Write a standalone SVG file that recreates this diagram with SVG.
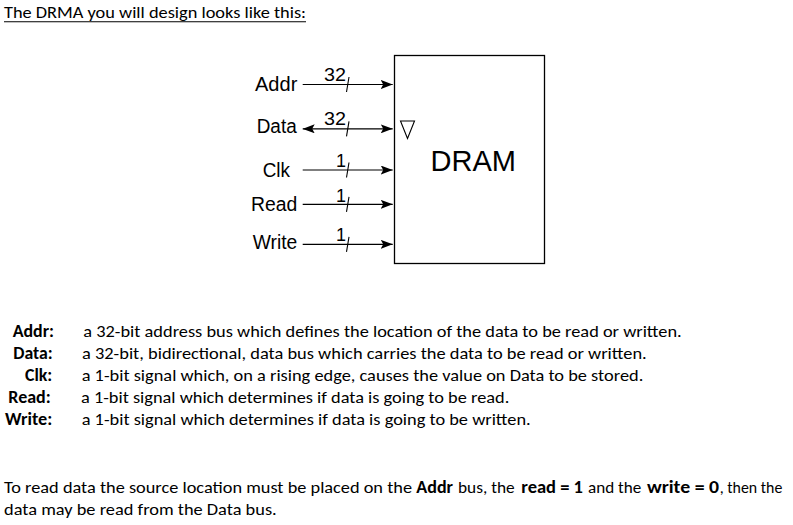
<svg xmlns="http://www.w3.org/2000/svg" width="793" height="525" viewBox="0 0 793 525">
<style>
.bg{fill:#fff}
.dia{font-family:"Liberation Sans",Arial,sans-serif;fill:#000}
.sig{font-size:20px}
.w{font-size:18px}
.conn{stroke:#000;stroke-width:1.2;fill:none}
.tick{stroke:#000;stroke-width:1.1}
.body{font-family:Carlito,Lato,"Liberation Sans",sans-serif;font-size:17px;fill:#000}
.b{font-weight:bold}
</style>
<defs>
<marker id="ah" viewBox="0 0 12 9" refX="12" refY="4.5" markerWidth="12" markerHeight="9" markerUnits="userSpaceOnUse" orient="auto-start-reverse">
<path d="M0,0 L12,4.5 L0,9 L2.5,4.5 z" fill="#000"/>
</marker>
</defs>
<rect class="bg" x="0" y="0" width="793" height="525"/>

<!-- title -->
<g id="title">
<text class="body" x="4" y="18.3" textLength="302" lengthAdjust="spacingAndGlyphs">The DRMA you will design looks like this:</text>
<line x1="4" y1="21.8" x2="306" y2="21.8" stroke="#000" stroke-width="1.1"/>
</g>

<!-- nodes -->
<g id="dram" class="dia">
<rect x="394.5" y="55.5" width="150" height="208" fill="#fff" stroke="#000" stroke-width="1.3"/>
<polygon points="400.5,121 414.5,121 407.5,138.5" fill="none" stroke="#000" stroke-width="1.1"/>
<text x="430.5" y="170.7" font-size="29" textLength="85.5" lengthAdjust="spacingAndGlyphs">DRAM</text>
</g>
<g id="addr" class="dia sig"><text x="255" y="90.7" textLength="42.3" lengthAdjust="spacingAndGlyphs">Addr</text></g>
<g id="data" class="dia sig"><text x="256.7" y="133.3" textLength="40" lengthAdjust="spacingAndGlyphs">Data</text></g>
<g id="clk" class="dia sig"><text x="262.7" y="176.7" textLength="27.3" lengthAdjust="spacingAndGlyphs">Clk</text></g>
<g id="read" class="dia sig"><text x="251" y="211" textLength="46.3" lengthAdjust="spacingAndGlyphs">Read</text></g>
<g id="write" class="dia sig"><text x="252.7" y="249.3" textLength="44.6" lengthAdjust="spacingAndGlyphs">Write</text></g>

<!-- connectors -->
<g id="connectors">
<line class="conn" x1="302.7" y1="84.5" x2="392.7" y2="84.5" marker-end="url(#ah)"/>
<line class="conn" x1="302.7" y1="128.8" x2="392.7" y2="128.8" marker-start="url(#ah)" marker-end="url(#ah)"/>
<line class="conn" x1="302.7" y1="170" x2="392.7" y2="170" marker-end="url(#ah)"/>
<line class="conn" x1="302.7" y1="204.3" x2="392.7" y2="204.3" marker-end="url(#ah)"/>
<line class="conn" x1="302.7" y1="244.3" x2="392.7" y2="244.3" marker-end="url(#ah)"/>
<line class="tick" x1="346.5" y1="92" x2="349" y2="77"/>
<line class="tick" x1="346.5" y1="136.3" x2="349" y2="121.3"/>
<line class="tick" x1="346.5" y1="177.5" x2="349" y2="162.5"/>
<line class="tick" x1="346.5" y1="211.8" x2="349" y2="196.8"/>
<line class="tick" x1="346.5" y1="251.8" x2="349" y2="236.8"/>
<g class="dia w">
<text x="324" y="80.7" textLength="22" lengthAdjust="spacingAndGlyphs">32</text>
<text x="324" y="125" textLength="22" lengthAdjust="spacingAndGlyphs">32</text>
<text x="336" y="167.3">1</text>
<text x="336" y="201.7">1</text>
<text x="336" y="240.7">1</text>
</g>
</g>

<!-- definitions -->
<g id="definitions" class="body">
<text class="b" x="12.7" y="337" textLength="41.3" lengthAdjust="spacingAndGlyphs">Addr:</text>
<text class="b" x="13.3" y="359" textLength="39.4" lengthAdjust="spacingAndGlyphs">Data:</text>
<text class="b" x="25" y="381.2" textLength="27.3" lengthAdjust="spacingAndGlyphs">Clk:</text>
<text class="b" x="8.3" y="403" textLength="42.4" lengthAdjust="spacingAndGlyphs">Read:</text>
<text class="b" x="5" y="425.3" textLength="47.3" lengthAdjust="spacingAndGlyphs">Write:</text>
<text x="83.3" y="337" textLength="598.4" lengthAdjust="spacingAndGlyphs">a 32-bit address bus which defines the location of the data to be read or written.</text>
<text x="82" y="359" textLength="564.7" lengthAdjust="spacingAndGlyphs">a 32-bit, bidirectional, data bus which carries the data to be read or written.</text>
<text x="81.7" y="381.2" textLength="561.6" lengthAdjust="spacingAndGlyphs">a 1-bit signal which, on a rising edge, causes the value on Data to be stored.</text>
<text x="81" y="403" textLength="428.3" lengthAdjust="spacingAndGlyphs">a 1-bit signal which determines if data is going to be read.</text>
<text x="81.7" y="425.3" textLength="449" lengthAdjust="spacingAndGlyphs">a 1-bit signal which determines if data is going to be written.</text>
</g>

<!-- paragraph -->
<g id="paragraph" class="body">
<text x="4" y="493.3" textLength="408" lengthAdjust="spacingAndGlyphs">To read data the source location must be placed on the</text>
<text class="b" x="416.3" y="493.3" textLength="36.7" lengthAdjust="spacingAndGlyphs">Addr</text>
<text x="458" y="493.3" textLength="56.7" lengthAdjust="spacingAndGlyphs">bus, the</text>
<text class="b" x="521.3" y="493.3" textLength="61.7" lengthAdjust="spacingAndGlyphs">read = 1</text>
<text x="588" y="493.3" textLength="53.3" lengthAdjust="spacingAndGlyphs">and the</text>
<text class="b" x="647" y="493.3" textLength="72" lengthAdjust="spacingAndGlyphs">write = 0</text>
<text x="719.7" y="493.3" textLength="62.6" lengthAdjust="spacingAndGlyphs">, then the</text>
<text x="4" y="515" textLength="272.7" lengthAdjust="spacingAndGlyphs">data may be read from the Data bus.</text>
</g>
</svg>
